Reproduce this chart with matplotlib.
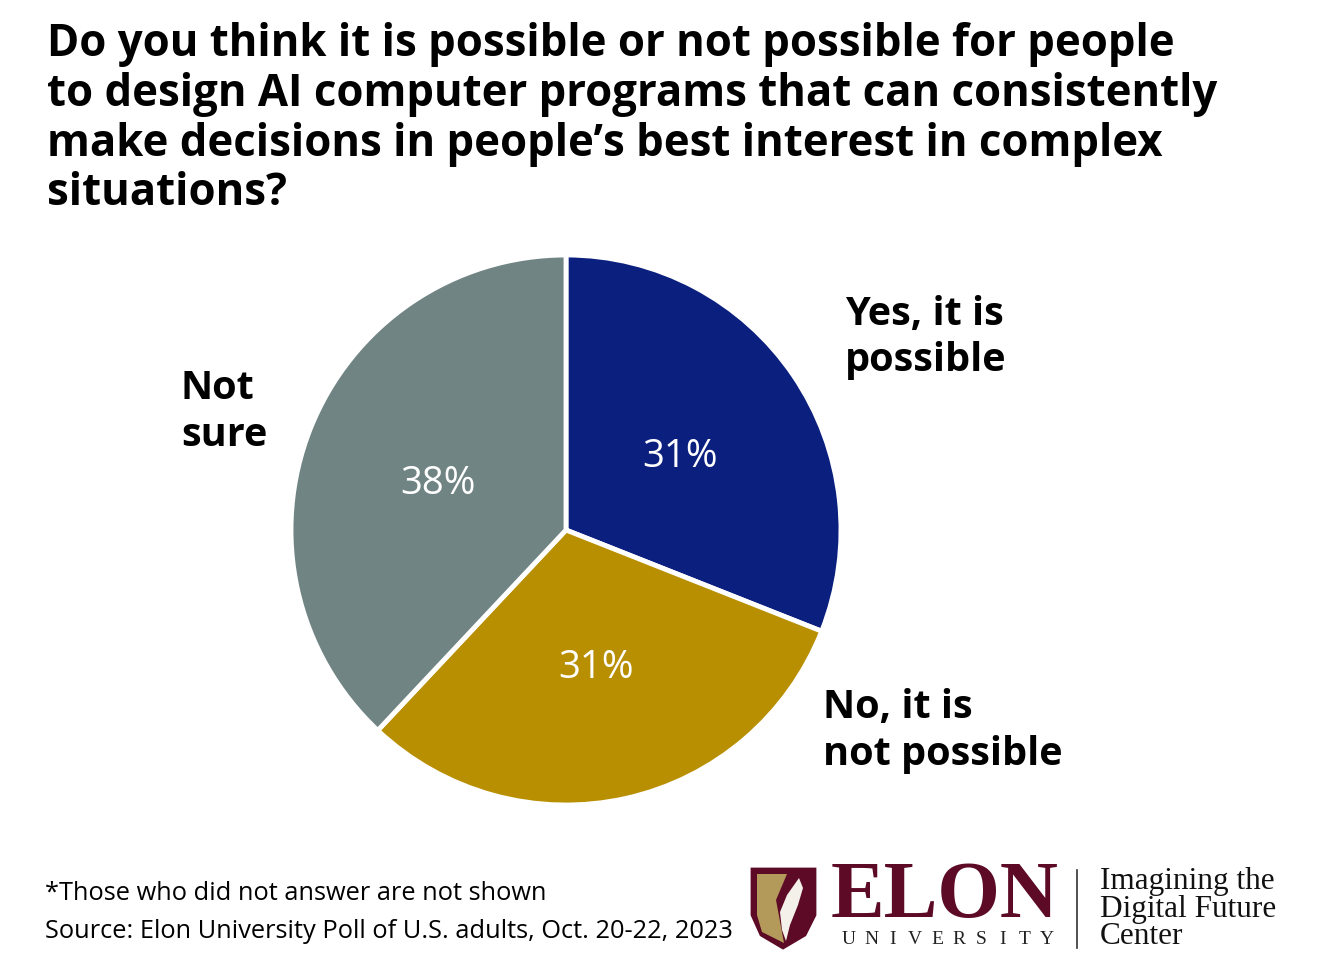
import matplotlib.pyplot as plt
from matplotlib.patches import Polygon, PathPatch
from matplotlib.path import Path

# data
categories = ['Yes, it is\npossible', 'No, it is\nnot possible', 'Not\nsure']
values = [31, 31, 38]
colors = ['#0a1f7e', '#b98f02', '#718484']
label_pos = [(1.015, 0.70), (0.935, -0.73), (-1.40, 0.43)]

title = ("Do you think it is possible or not possible for people\n"
         "to design AI computer programs that can consistently\n"
         "make decisions in people\u2019s best interest in complex\n"
         "situations?")
note = "*Those who did not answer are not shown"
source = "Source: Elon University Poll of U.S. adults, Oct. 20-22, 2023"

W, H = 1338, 960
fig = plt.figure(figsize=(W / 100, H / 100), dpi=100)
fig.patch.set_facecolor('white')

# pie: center ~ (566, 530) px, radius ~275 px
cx, cy, r = 566, 530, 275
ax = fig.add_axes([(cx - r) / W, (H - cy - r) / H, 2 * r / W, 2 * r / H])
wedges, texts, autotexts = ax.pie(
    values, colors=colors, startangle=90, counterclock=False,
    autopct='%d%%', pctdistance=0.5,
    wedgeprops=dict(edgecolor='white', linewidth=3.5),
    textprops=dict(color='white', fontsize=27.5, family='Open Sans'))
for t in autotexts:
    x, y = t.get_position()
    t.set_position((x, y - 0.015))
ax.set_xlim(-1, 1)
ax.set_ylim(-1, 1)
ax.set_aspect('equal')

for lab, (x, y) in zip(categories, label_pos):
    ax.text(x, y, lab, ha='left', va='center', fontsize=28.5, fontweight='bold',
            family='Open Sans', color='black', linespacing=1.25, clip_on=False)

fig.text(47 / W, 1 - 22 / H, title, ha='left', va='top', fontsize=31.5,
         fontweight='bold', family='Open Sans', color='black', linespacing=1.14)

fig.text(45 / W, 1 - 893 / H, note, ha='left', va='center', fontsize=18.3,
         family='Open Sans', color='black')
fig.text(45 / W, 1 - 932 / H, source, ha='left', va='center', fontsize=18.3,
         family='Open Sans', color='black')

# Elon logo
maroon = '#5c0a26'
gold = '#b39a5a'
lax = fig.add_axes([0, 0, 1, 1], zorder=5)
lax.set_xlim(0, W)
lax.set_ylim(H, 0)
lax.axis('off')
shield = Path([(752, 869), (815, 869), (815, 915), (805, 935), (783, 948),
               (761, 935), (752, 915), (752, 869)],
              [Path.MOVETO] + [Path.LINETO] * 6 + [Path.CLOSEPOLY])
lax.add_patch(PathPatch(shield, facecolor=maroon, edgecolor=maroon, lw=2))
inner_l = Polygon([(757, 874), (787, 874), (776, 900), (784, 943), (762, 932),
                   (757, 915)], closed=True, facecolor=gold, edgecolor='none')
lax.add_patch(inner_l)
leaf = Polygon([(799, 878), (787, 895), (780, 912), (782, 930), (786, 941),
                (790, 925), (798, 905), (803, 888)], closed=True,
               facecolor='#f4f1ea', edgecolor='none')
lax.add_patch(leaf)

lax.text(831, 897, 'ELON', ha='left', va='center', fontsize=58,
         fontweight='bold', family='Liberation Serif', color=maroon)
univ = 'UNIVERSITY'
for i, ch in enumerate(univ):
    lax.text(849 + i * 22.0, 940, ch, ha='center', va='center', fontsize=14,
             family='Liberation Serif', color='#222222')
lax.plot([1077, 1077], [870, 948], color='#333333', lw=1.2)
lax.text(1100, 909, 'Imagining the\nDigital Future\nCenter', ha='left',
         va='center', fontsize=22.5, family='Liberation Serif', color='#111111',
         linespacing=0.93)

fig.savefig('out.png', dpi=100, facecolor='white')
